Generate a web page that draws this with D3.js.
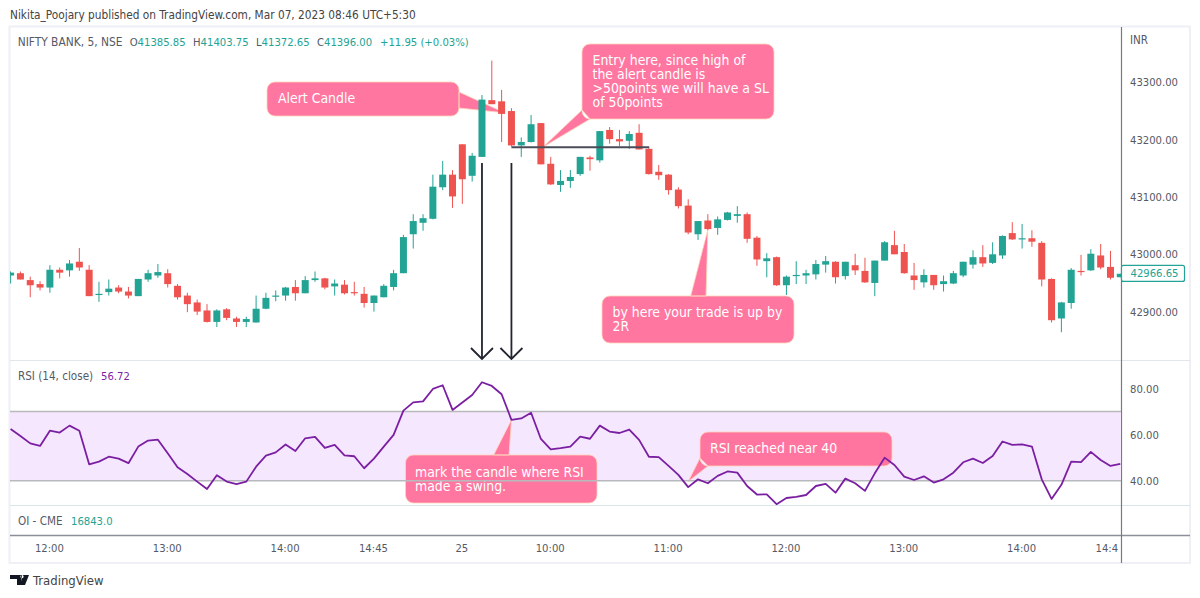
<!DOCTYPE html>
<html>
<head>
<meta charset="utf-8">
<script src="https://cdn.jsdelivr.net/npm/d3@7"></script>
<style>
html, body { margin: 0; padding: 0; background: #fff; overflow: hidden; }
text { font-family: "DejaVu Sans Condensed", "Noto Sans", sans-serif; }
</style>
</head>
<body>
<script>
// candle values
var opens = [42963,42967,42955,42948,42942,42973,42972,42987,42973,42929,42934,42942,42935,42927,42956,42963,42967,42945,42928,42916,42902,42882,42904,42888,42882,42881,42905,42927,42928,42943,42932,42955,42958,42944,42947,42934,42931,42915,42925,42943,
  42967,43035,43055,43062,43117,43139,43192,43137,43170,43269,43267,43250,43190,43196,43229,43158,43121,43128,43140,43169,43164,43217,43201,43198,43212,43184,43144,43139,43113,43085,43035,43059,43046,43060,43067,43070,43029,
  42988,42995,42946,42962,42963,42965,42982,42987,42962,42981,42971,42950,42989,43016,43004,42963,42951,42964,42948,42949,42963,42982,42995,42985,42998,43037,43026,43028,43020,42957,42888,42915,42971,42972,42998,42978,42960];
var highs = [42970,42970,42961,42953,42981,42977,42990,43011,42981,42952,42956,42946,42943,42957,42973,42983,42974,42948,42933,42921,42913,42904,42906,42891,42891,42928,42933,42937,42943,42955,42962,42970,42959,42956,42955,42952,42943,42928,42948,42973,
  43034,43070,43070,43139,43163,43147,43192,43177,43278,43338,43287,43255,43204,43243,43229,43170,43147,43147,43170,43172,43215,43222,43217,43215,43227,43188,43156,43140,43117,43096,43058,43070,43066,43074,43084,43073,43032,
  43002,42996,42963,42988,42973,42990,42997,42988,42987,43001,42994,42989,43023,43041,43018,42985,42974,42964,42963,42971,42987,43007,43016,43021,43033,43056,43053,43042,43023,42958,42917,42976,42999,43009,43018,43006,42966];
var lows = [42949,42956,42925,42937,42933,42958,42961,42971,42927,42917,42928,42932,42923,42927,42952,42959,42942,42921,42899,42894,42881,42873,42885,42873,42873,42881,42904,42918,42919,42919,42932,42952,42939,42928,42930,42928,42907,42900,42925,42937,
  42967,43010,43041,43061,43112,43081,43088,43127,43170,43262,43196,43188,43170,43195,43157,43121,43109,43116,43137,43146,43160,43193,43189,43184,43183,43139,43130,43104,43080,43035,43025,43042,43034,43059,43055,43020,42980,
  42960,42945,42929,42948,42948,42956,42968,42949,42956,42964,42950,42927,42989,43000,42966,42938,42942,42938,42935,42948,42960,42975,42978,42983,42992,43025,43010,43013,42944,42881,42864,42905,42963,42971,42974,42956,42960];
var closes = [42968,42956,42946,42942,42973,42968,42984,42977,42927,42931,42940,42935,42928,42957,42967,42969,42948,42925,42913,42900,42882,42902,42889,42882,42887,42905,42924,42928,42942,42932,42955,42958,42942,42949,42932,42932,42915,42928,42945,42967,
  43030,43058,43063,43118,43139,43101,43131,43172,43270,43262,43245,43190,43196,43227,43157,43122,43128,43135,43170,43166,43215,43201,43197,43210,43183,43140,43138,43112,43084,43038,43058,43044,43061,43073,43070,43027,42991,
  42993,42946,42961,42964,42967,42983,42988,42960,42987,42972,42951,42989,43021,43000,42967,42955,42964,42946,42953,42967,42987,42995,42984,43000,43032,43026,43028,43022,42956,42885,42916,42973,42969,43001,42977,42959,42966];
var rsiValues = [62.4,59.4,56.2,55.1,61.7,60.9,63.9,61.7,47.1,48.3,50.4,49.6,47.6,54.8,57.4,57.8,51.9,45.8,42.9,39.6,36.4,42.4,39.6,38.5,39.6,46.1,50.9,52.3,55.7,52.9,58.4,59,54.2,55.5,51,50.6,45.4,49.6,54.8,59.9,
  70.4,74,74.4,79.8,81.4,70.7,73.9,77.2,82.7,81.1,77.5,66.4,67,69.5,58.1,53.6,54.1,54.8,59.1,58.2,
  63.9,61.3,60.7,62.2,57.7,50.4,50.2,46.4,42.5,37.2,40.6,38.9,42.1,44,43.5,37.7,34,34.1,29.8,32.5,33,33.8,37.7,38.6,34.8,40.9,38.9,35.6,43.2,50,46.8,41.8,40.3,41.9,39.2,40.6,43.5,48,49.6,47.7,50.7,57,55.5,55.8,54.8,40.6,32.1,38.2,48.3,48.1,52.5,49,46.4,47.3];

var priceTicks = [42900, 43000, 43100, 43200, 43300];
var rsiTicks = [40, 60, 80];
var timeTicks = [4, 16, 28, 37, 46, 55, 67, 79, 91, 103, 112];
var timeLabels = ["12:00","13:00","14:00","14:45","25","10:00","11:00","12:00","13:00","14:00","14:45"];
var lastPrice = 42966.65;
var rsiUpper = 70, rsiLower = 40;

var width = 1200, height = 598;
var up = "#22a394", down = "#ef5350", grey = "#555a66", purple = "#7b1fa2";
var left = 10, right = 1121;

var svg = d3.select("body").append("svg")
    .attr("width", width).attr("height", height)
    .style("display", "block");

var x = d3.scaleLinear().domain([0, 113]).range([10.6, 1120.3]);
var y = d3.scaleLinear().domain([42900, 43300]).range([311.6, 82.4]);
var yRsi = d3.scaleLinear().domain([40, 80]).range([480.7, 388.5]);

var defs = svg.append("defs");
defs.append("clipPath").attr("id", "mainClip").append("rect")
    .attr("x", left).attr("y", 27).attr("width", right - left).attr("height", 333);
defs.append("clipPath").attr("id", "rsiClip").append("rect")
    .attr("x", left).attr("y", 361).attr("width", right - left).attr("height", 144);
defs.append("clipPath").attr("id", "timeClip").append("rect")
    .attr("x", left).attr("y", 536).attr("width", right - left - 3).attr("height", 27);

// frame and pane lines
svg.append("rect").attr("x", 9.5).attr("y", 26.5).attr("width", 1180.5).attr("height", 536.5)
    .attr("fill", "#fff").attr("stroke", "#eef0f5").attr("stroke-width", 2);
svg.append("line").attr("x1", left).attr("x2", 1190).attr("y1", 360.5).attr("y2", 360.5).attr("stroke", "#e0e6ec");
svg.append("line").attr("x1", left).attr("x2", 1190).attr("y1", 505.5).attr("y2", 505.5).attr("stroke", "#d8e6ec");
svg.append("line").attr("x1", left).attr("x2", 1190).attr("y1", 535.5).attr("y2", 535.5).attr("stroke", "#8c8f99").attr("stroke-width", 1.5);
svg.append("line").attr("x1", right + .5).attr("x2", right + .5).attr("y1", 27).attr("y2", 563).attr("stroke", "#777a85").attr("stroke-width", 1.2);

// rsi band
var rsiPane = svg.append("g").attr("clip-path", "url(#rsiClip)");
rsiPane.append("rect").attr("x", left).attr("width", right - left)
    .attr("y", yRsi(rsiUpper)).attr("height", yRsi(rsiLower) - yRsi(rsiUpper))
    .attr("fill", "#f5e7fd");

// callouts: box in page layout, tip anchored through the scales
var callouts = [
    { box: [267, 82, 192, 34], tip: [x(50.3), y(43247)], base: [[459, 92], [459, 108]],
      lines: ["Alert Candle"], tx: 278, ty: [98] },
    { box: [582, 44, 192, 75], tip: [x(54.2), y(43187)], base: [[582, 110], [590, 119]],
      lines: ["Entry here, since high of", "the alert candle is", ">50points we will have a SL", "of 50points"], tx: 592.5, ty: [60, 74, 87.8, 101.6] },
    { box: [602, 296, 192, 47], tip: [x(71), y(43043)], base: [[690.7, 296], [706, 296]],
      lines: ["by here your trade is up by", "2R"], tx: 612.5, ty: [311.7, 326] },
    { box: [405.5, 455, 191.5, 48], tip: [x(51), yRsi(66.4)], base: [[493.7, 455], [509, 455]],
      lines: ["mark the candle where RSI", "made a swing."], tx: 415, ty: [471.7, 486] },
    { box: [700, 432, 192, 34], tip: [x(69), yRsi(39.6)], base: [[700, 458], [708, 466]],
      lines: ["RSI reached near 40"], tx: 710, ty: [448] }
];
var callout = svg.selectAll(".callout").data(callouts).enter().append("g").attr("class", "callout");
callout.append("path")
    .attr("d", function(d) {
        var b = d.box, r = 8;
        var p = d3.path();
        p.moveTo(b[0] + r, b[1]);
        p.lineTo(b[0] + b[2] - r, b[1]);
        p.arcTo(b[0] + b[2], b[1], b[0] + b[2], b[1] + r, r);
        p.lineTo(b[0] + b[2], b[1] + b[3] - r);
        p.arcTo(b[0] + b[2], b[1] + b[3], b[0] + b[2] - r, b[1] + b[3], r);
        p.lineTo(b[0] + r, b[1] + b[3]);
        p.arcTo(b[0], b[1] + b[3], b[0], b[1] + b[3] - r, r);
        p.lineTo(b[0], b[1] + r);
        p.arcTo(b[0], b[1], b[0] + r, b[1], r);
        p.closePath();
        // pointer
        p.moveTo(d.base[0][0], d.base[0][1]);
        p.lineTo(d.tip[0], d.tip[1]);
        p.lineTo(d.base[1][0], d.base[1][1]);
        p.closePath();
        return p.toString();
    })
    .attr("fill", "#ff6f9b").attr("fill-opacity", .95)
    .attr("stroke", "#ffd5b8").attr("stroke-width", 1).attr("stroke-opacity", .8);
callout.selectAll("text").data(function(d) {
    return d.lines.map(function(t, k) { return { t: t, x: d.tx, y: d.ty[k] }; });
}).enter().append("text")
    .attr("x", function(d) { return d.x; })
    .attr("y", function(d) { return d.y; })
    .attr("dy", ".36em")
    .attr("fill", "#fff").attr("font-size", 13.9)
    .text(function(d) { return d.t; });

// band edges sit over the callouts
var bandEdges = svg.append("g").attr("clip-path", "url(#rsiClip)");
[rsiUpper, rsiLower].forEach(function(v) {
    bandEdges.append("line").attr("x1", left).attr("x2", right)
        .attr("y1", yRsi(v)).attr("y2", yRsi(v))
        .attr("stroke", "#b8b9bd").attr("stroke-width", 1.6);
});

// candles
var candleData = opens.map(function(o, i) {
    return { i: i, o: o, h: highs[i], l: lows[i], c: closes[i] };
});
var main = svg.append("g").attr("clip-path", "url(#mainClip)");
var candles = main.selectAll(".candle").data(candleData).enter().append("g").attr("class", "candle");
candles.append("line")
    .attr("x1", function(d) { return x(d.i); })
    .attr("x2", function(d) { return x(d.i); })
    .attr("y1", function(d) { return y(d.h); })
    .attr("y2", function(d) { return y(d.l); })
    .attr("stroke", function(d) { return d.c >= d.o ? up : down; })
    .attr("stroke-width", 1);
candles.append("rect")
    .attr("x", function(d) { return x(d.i) - 3.5; })
    .attr("width", 7)
    .attr("y", function(d) { return y(Math.max(d.o, d.c)); })
    .attr("height", function(d) { return Math.max(1.2, Math.abs(y(d.o) - y(d.c))); })
    .attr("fill", function(d) { return d.c >= d.o ? up : down; });

// drawn lines and arrows
var ink = "#22252f";
main.append("line").attr("x1", x(51)).attr("x2", x(65))
    .attr("y1", y(43187)).attr("y2", y(43187))
    .attr("stroke", "#4a4d58").attr("stroke-width", 2);
[48, 51].forEach(function(idx) {
    var ax = x(idx);
    main.append("path")
        .attr("d", "M" + ax + ",163V359M" + (ax - 11) + ",348L" + ax + ",359L" + (ax + 11) + ",348")
        .attr("fill", "none").attr("stroke", ink).attr("stroke-width", 1.8);
});

// rsi line
var rsiLine = d3.line()
    .x(function(d, i) { return x(i); })
    .y(function(d) { return yRsi(d); });
svg.append("g").attr("clip-path", "url(#rsiClip)").append("path")
    .datum(rsiValues)
    .attr("d", rsiLine)
    .attr("fill", "none").attr("stroke", purple).attr("stroke-width", 1.8).attr("stroke-linejoin", "round");

// axes
function styleAxis(g) {
    g.select(".domain").remove();
    g.selectAll(".tick line").remove();
    g.selectAll("text").attr("fill", grey).attr("font-size", 11.2)
        .style("font-family", '"DejaVu Sans Condensed", "Noto Sans", sans-serif');
}
svg.append("g").attr("transform", "translate(1122,0)")
    .call(d3.axisRight(y).tickValues(priceTicks).tickFormat(d3.format(".2f")).tickSize(0).tickPadding(8))
    .call(styleAxis);
svg.append("g").attr("transform", "translate(1122,0)")
    .call(d3.axisRight(yRsi).tickValues(rsiTicks).tickFormat(d3.format(".2f")).tickSize(0).tickPadding(8))
    .call(styleAxis);
svg.append("g").attr("clip-path", "url(#timeClip)").append("g")
    .attr("transform", "translate(-1,536)")
    .call(d3.axisBottom(x).tickValues(timeTicks)
        .tickFormat(function(d) { return timeLabels[timeTicks.indexOf(d)]; })
        .tickSize(0).tickPadding(8))
    .call(styleAxis);

// last price tag
svg.append("rect").attr("x", 1121.5).attr("y", y(lastPrice) - 8).attr("width", 63).attr("height", 16).attr("rx", 2)
    .attr("fill", "#fff").attr("stroke", up).attr("stroke-width", 1.2);
svg.append("text").attr("x", 1130.5).attr("y", y(lastPrice)).attr("dy", ".36em")
    .attr("fill", up).attr("font-size", 11.2).text(d3.format(".2f")(lastPrice));

// header texts
function label(tx, ty, t, color, size) {
    svg.append("text").attr("x", tx).attr("y", ty).attr("fill", color).attr("font-size", size || 11.7).text(t);
}
label(10, 19, "Nikita_Poojary published on TradingView.com, Mar 07, 2023 08:46 UTC+5:30", "#444", 11.75);
label(17.7, 45.5, "NIFTY BANK, 5, NSE", grey, 11.85);
[["O", "41385.85", 129.7], ["H", "41403.75", 193], ["L", "41372.65", 256], ["C", "41396.00", 317]].forEach(function(d) {
    svg.append("text").attr("x", d[2]).attr("y", 45.5).attr("font-size", 11.2).attr("fill", grey)
        .text(d[0]).append("tspan").attr("fill", up).text(d[1]);
});
label(380, 45.5, "+11.95 (+0.03%)", up, 11.2);
label(1130, 43.5, "INR", grey, 11.5);
label(18, 380, "RSI (14, close)", grey, 11.6);
label(101, 380, "56.72", purple, 11.2);
label(18, 525, "OI - CME", grey, 11.6);
label(71, 525, "16843.0", up, 11.2);

// logo
svg.append("path")
    .attr("d", "M10,575H21V585H17V579H10ZM22,575H29L25,585H20.5ZM22,575a1.6,1.6 0 1,0 .01,0")
    .attr("fill", "#131722");
label(33, 585, "TradingView", "#444", 13);
</script>
</body>
</html>
